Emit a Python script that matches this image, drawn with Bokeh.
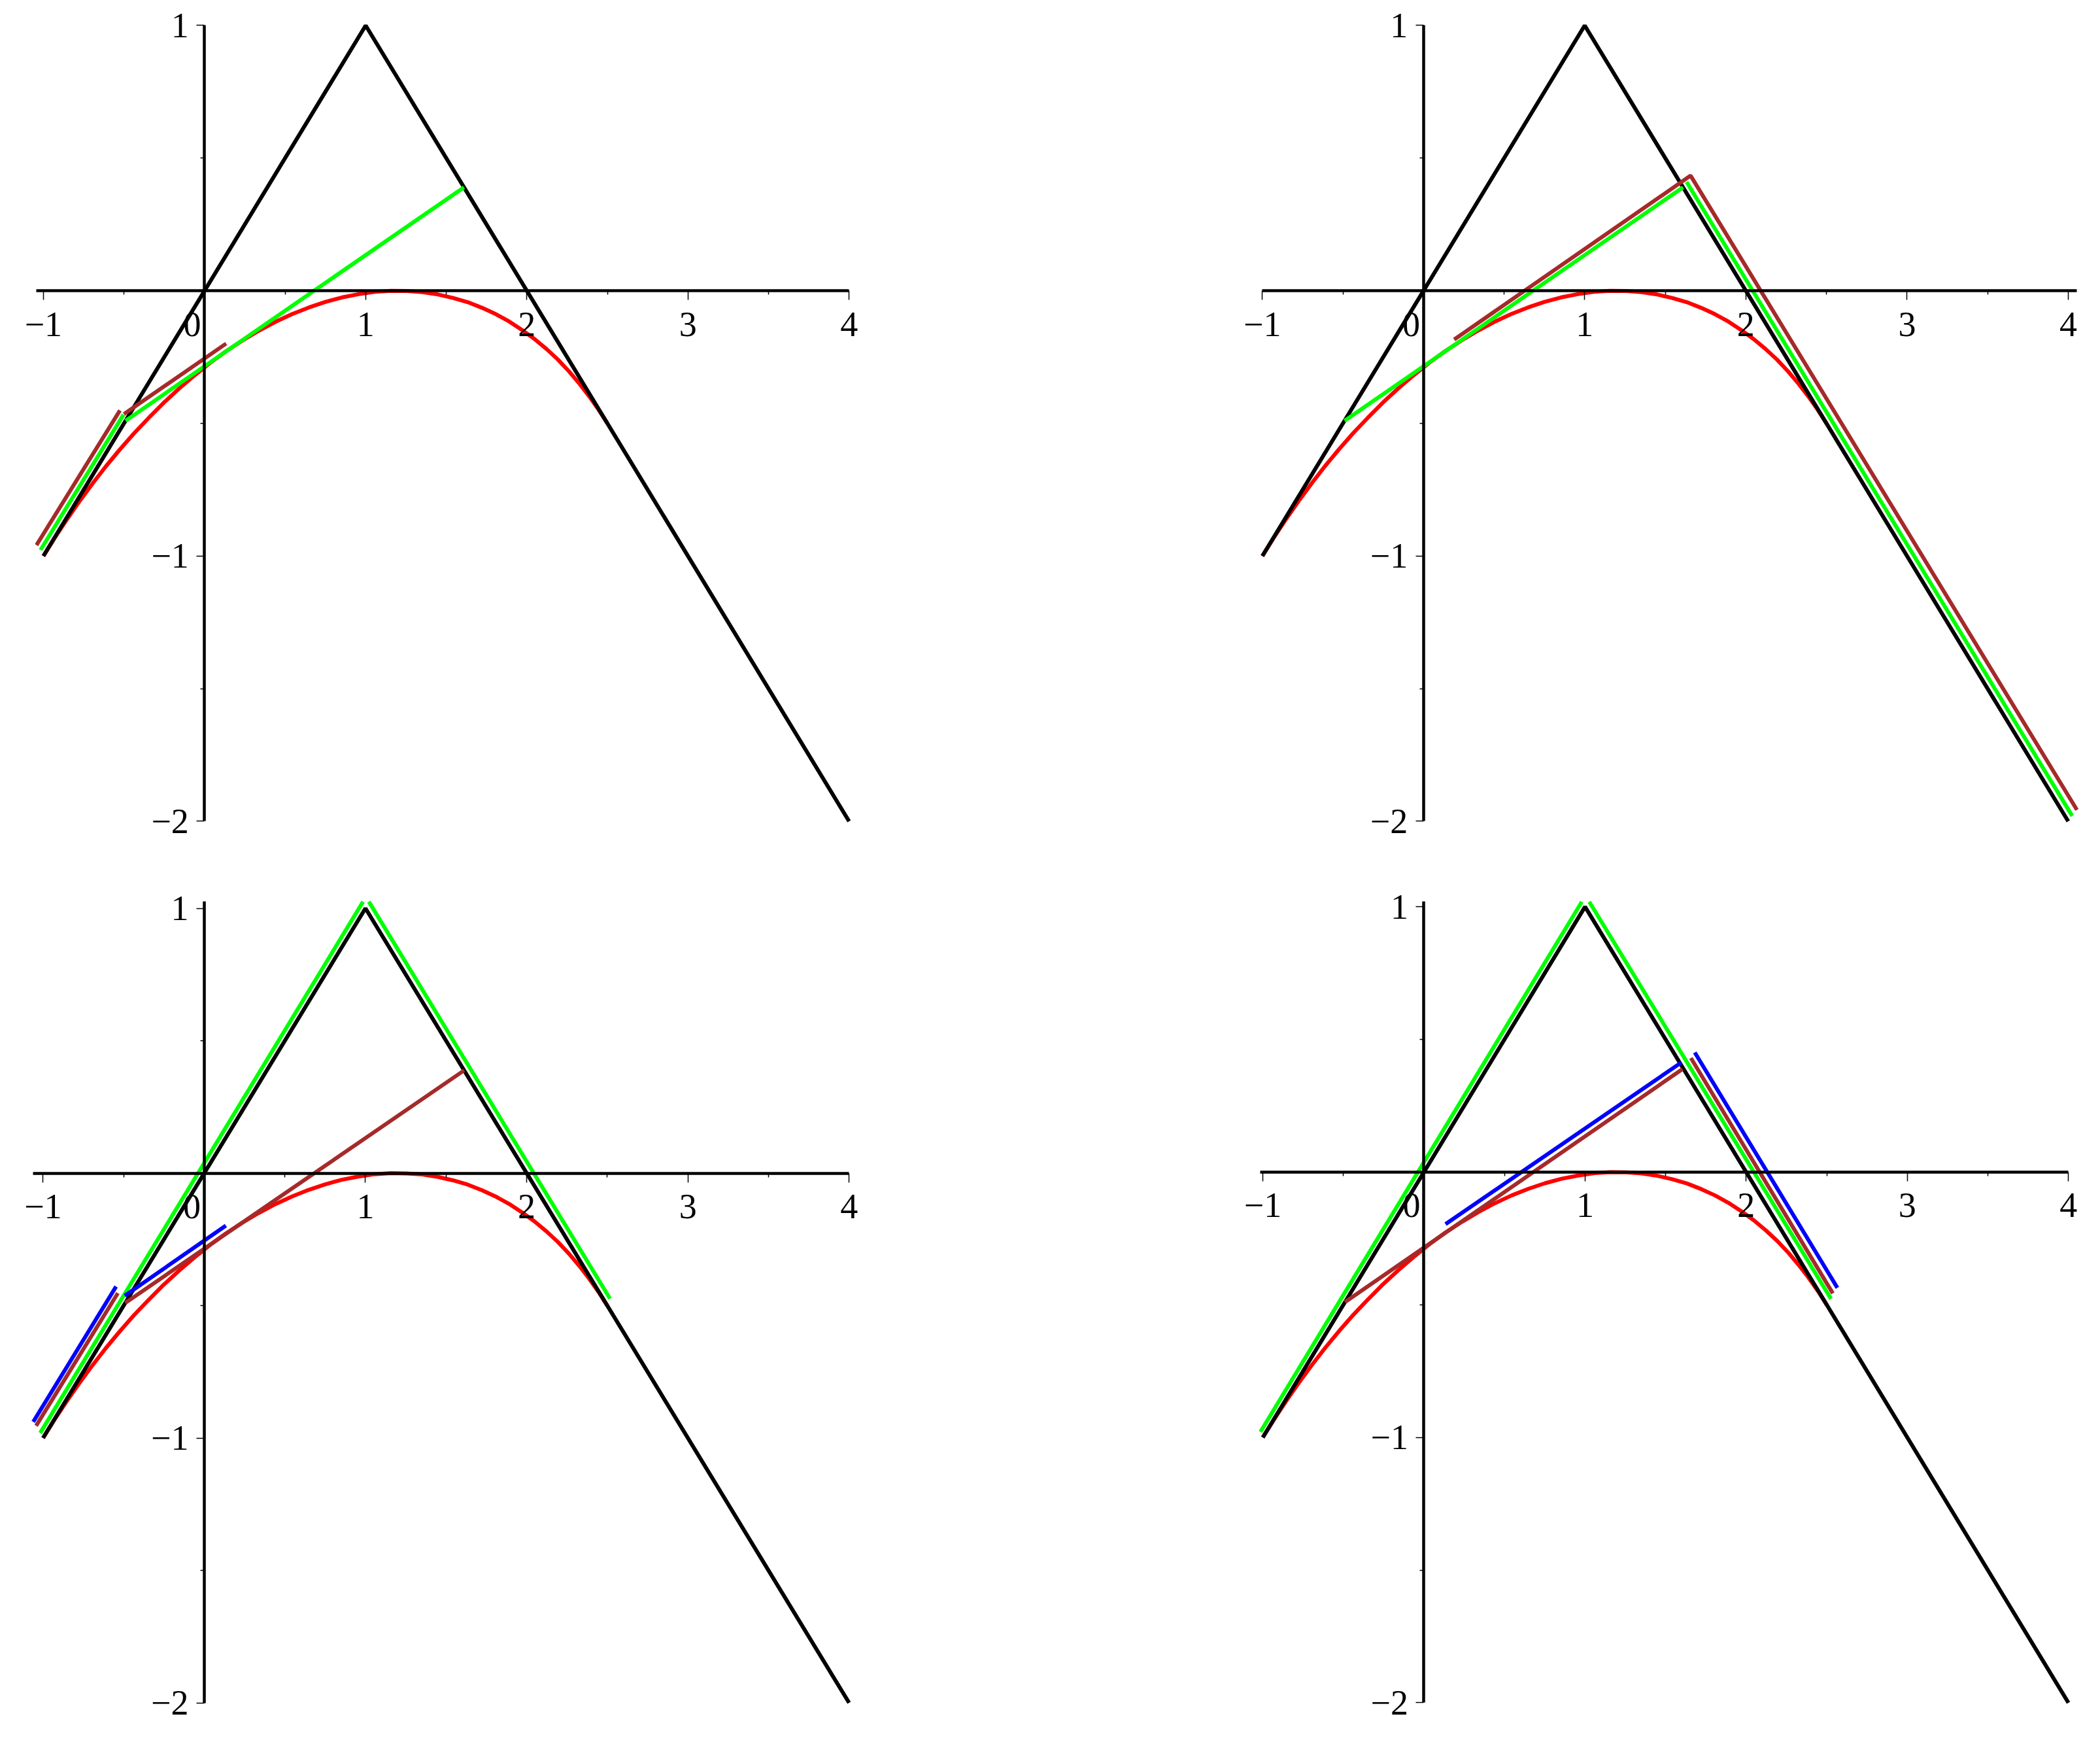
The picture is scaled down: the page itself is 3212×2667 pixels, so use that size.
from bokeh.plotting import figure
from bokeh.layouts import column, row
from bokeh.models import Range1d, FixedTicker
from bokeh.embed import file_html
from bokeh.resources import INLINE

# ---------------- data ----------------
black_x = [-1.0, 1.0, 4.0]
black_y = [-1.0, 1.0, -2.0]

red_x = [-1.000, -0.928, -0.853, -0.775, -0.694, -0.611, -0.525, -0.437, -0.346, -0.253,
         -0.158, -0.062, 0.036, 0.136, 0.237, 0.339, 0.441, 0.544, 0.648, 0.751,
         0.854, 0.956, 1.057, 1.157, 1.256, 1.353, 1.449, 1.542, 1.633, 1.721,
         1.807, 1.891, 1.971, 2.048, 2.123, 2.194, 2.262, 2.326, 2.387, 2.445, 2.500]
red_y = [-1.000, -0.930, -0.861, -0.793, -0.726, -0.661, -0.598, -0.537, -0.479, -0.422,
         -0.369, -0.319, -0.271, -0.227, -0.187, -0.150, -0.117, -0.088, -0.063, -0.042,
         -0.025, -0.013, -0.004, -0.000, -0.001, -0.005, -0.014, -0.027, -0.043, -0.064,
         -0.088, -0.116, -0.148, -0.182, -0.220, -0.260, -0.304, -0.350, -0.398, -0.448, -0.500]

# top-left panel
tl_green_xs = [[-1.018, -0.503], [-0.49, 1.61]]
tl_green_ys = [[-0.977, -0.467], [-0.49, 0.39]]
tl_brown_xs = [[-1.043, -0.525], [-0.50, 0.134]]
tl_brown_ys = [[-0.959, -0.451], [-0.465, -0.199]]

# top-right panel
tr_green_xs = [[-0.49, 1.61], [1.632, 4.025]]
tr_green_ys = [[-0.49, 0.39], [0.41, -1.98]]
tr_brown_xs = [[0.19, 1.657, 4.054]]
tr_brown_ys = [[-0.184, 0.434, -1.957]]

# bottom-left panel
bl_green_xs = [[-1.018, 0.985], [1.021, 2.517]]
bl_green_ys = [[-0.981, 1.025], [1.025, -0.474]]
bl_brown_xs = [[-1.043, -0.536], [-0.49, 1.612]]
bl_brown_ys = [[-0.954, -0.453], [-0.49, 0.388]]
bl_blue_xs = [[-1.061, -0.547], [-0.493, 0.134]]
bl_blue_ys = [[-0.939, -0.428], [-0.463, -0.198]]

# bottom-right panel
br_green_xs = [[-1.015, 0.980], [1.026, 2.527]]
br_green_ys = [[-0.979, 1.019], [1.019, -0.478]]
br_brown_xs = [[-0.49, 1.604], [1.657, 2.538]]
br_brown_ys = [[-0.49, 0.388], [0.430, -0.457]]
br_blue_xs = [[0.134, 1.597], [1.681, 2.566]]
br_blue_ys = [[-0.196, 0.413], [0.451, -0.436]]

x_ticks = [-1, 0, 1, 2, 3, 4]
x_minor = [-0.5, 0.5, 1.5, 2.5, 3.5]
x_labels = {-1: "\u22121", 0: "0\u2002\u2009", 1: "1", 2: "2", 3: "3", 4: "4"}
y_ticks = [-2, -1, 1]
y_minor = [-1.5, -0.5, 0.5]
y_labels = {-2: "\u22122", -1: "\u22121", 1: "1"}

# ---------------- layout constants ----------------
UX, UY = 246.5, 405.6          # pixels per data unit
COL_LEFT = [8, 1608]
COL_W = [1600, 1596]
ROW_TOP = [8, 1348]
ROW_H = [1340, 1315]
ORIGIN_X = [320, 2185]         # page x of data x=0
ORIGIN_Y = [452, 1800]         # page y of data y=0
PAD_L, PAD_R, PAD_T, PAD_B = 0.2, 0.06, 0.08, 0.09

COLORS = {"green": "#00FF00", "brown": "#A52A2A", "blue": "#0000FF"}
FONT = "Liberation Serif"
LW = 6


def panel(r, c, series):
    all_x = list(black_x) + list(red_x)
    all_y = list(black_y) + list(red_y)
    for _, (xs, ys) in series:
        for a in xs:
            all_x += a
        for a in ys:
            all_y += a
    xmin, xmax = min(all_x), max(all_x)
    ymin, ymax = min(all_y), max(all_y)
    x0, x1 = xmin - PAD_L, xmax + PAD_R
    y0, y1 = ymin - PAD_B, ymax + PAD_T

    W, H = COL_W[c], ROW_H[r]
    fl = ORIGIN_X[c] + x0 * UX - COL_LEFT[c]
    ft = ORIGIN_Y[r] - y1 * UY - ROW_TOP[r]
    fw = (x1 - x0) * UX
    fh = (y1 - y0) * UY
    mbl = max(0, int(round(fl)))
    mbt = max(0, int(round(ft)))
    mbr = max(0, int(round(W - fl - fw)))
    mbb = max(0, int(round(H - ft - fh)))

    p = figure(width=W, height=H, output_backend="svg", toolbar_location=None,
               x_range=Range1d(x0, x1), y_range=Range1d(y0, y1),
               min_border_left=mbl, min_border_right=mbr,
               min_border_top=mbt, min_border_bottom=mbb)
    p.outline_line_color = None
    p.grid.visible = False
    p.background_fill_color = "white"
    p.border_fill_color = "white"

    p.line(red_x, red_y, line_color="#FF0000", line_width=LW)
    p.line(black_x, black_y, line_color="black", line_width=LW)
    for name, (xs, ys) in series:
        p.multi_line(xs, ys, line_color=COLORS[name], line_width=LW)

    xa = p.xaxis[0]
    xa.fixed_location = 0
    xa.bounds = (xmin, xmax)
    xa.ticker = FixedTicker(ticks=x_ticks, minor_ticks=x_minor)
    xa.major_label_overrides = x_labels
    xa.axis_line_width = 4.5
    xa.major_tick_out = 14
    xa.major_tick_in = 0
    xa.minor_tick_out = 6
    xa.minor_tick_in = 0
    xa.major_tick_line_width = 1.5
    xa.minor_tick_line_width = 1.5
    xa.major_label_standoff = 7
    xa.major_label_text_font = FONT
    xa.major_label_text_font_size = "54px"
    xa.major_label_text_color = "black"

    ya = p.yaxis[0]
    ya.fixed_location = 0
    ya.bounds = (ymin, ymax)
    ya.ticker = FixedTicker(ticks=y_ticks, minor_ticks=y_minor)
    ya.major_label_overrides = y_labels
    ya.axis_line_width = 4.5
    ya.major_tick_out = 12
    ya.major_tick_in = 0
    ya.minor_tick_out = 6
    ya.minor_tick_in = 0
    ya.major_tick_line_width = 1.5
    ya.minor_tick_line_width = 1.5
    ya.major_label_standoff = 12
    ya.major_label_text_font = FONT
    ya.major_label_text_font_size = "54px"
    ya.major_label_text_color = "black"
    return p


p_tl = panel(0, 0, [("green", (tl_green_xs, tl_green_ys)), ("brown", (tl_brown_xs, tl_brown_ys))])
p_tr = panel(0, 1, [("green", (tr_green_xs, tr_green_ys)), ("brown", (tr_brown_xs, tr_brown_ys))])
p_bl = panel(1, 0, [("green", (bl_green_xs, bl_green_ys)), ("brown", (bl_brown_xs, bl_brown_ys)),
                    ("blue", (bl_blue_xs, bl_blue_ys))])
p_br = panel(1, 1, [("green", (br_green_xs, br_green_ys)), ("brown", (br_brown_xs, br_brown_ys)),
                    ("blue", (br_blue_xs, br_blue_ys))])

layout = column(row(p_tl, p_tr, spacing=0), row(p_bl, p_br, spacing=0), spacing=0)
open("out.html", "w").write(file_html(layout, INLINE))
